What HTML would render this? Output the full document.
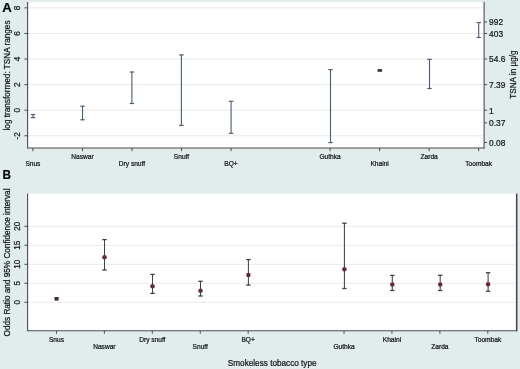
<!DOCTYPE html>
<html><head><meta charset="utf-8"><title>Smokeless tobacco TSNA and odds ratios</title>
<style>html,body{margin:0;padding:0;background:#e1ecec;}svg{display:block;}</style></head>
<body><svg width="520" height="369" viewBox="0 0 520 369" font-family='"Liberation Sans", Arial, Helvetica, sans-serif'><style>text{stroke:#151515;stroke-width:0.22px;}</style>
<rect x="0" y="0" width="520" height="369" fill="#e1ecec"/>
<rect x="27.6" y="2.1" width="456.5" height="145.9" fill="#fff"/>
<line x1="27.6" x2="484.1" y1="7.88" y2="7.88" stroke="#eaeaea" stroke-width="1"/>
<line x1="24.4" x2="27.6" y1="7.88" y2="7.88" stroke="#4d4d4d" stroke-width="1"/>
<text transform="translate(20.4,7.88) rotate(-90)" text-anchor="middle" font-size="8.2" fill="#151515">8</text>
<line x1="27.6" x2="484.1" y1="33.46" y2="33.46" stroke="#eaeaea" stroke-width="1"/>
<line x1="24.4" x2="27.6" y1="33.46" y2="33.46" stroke="#4d4d4d" stroke-width="1"/>
<text transform="translate(20.4,33.46) rotate(-90)" text-anchor="middle" font-size="8.2" fill="#151515">6</text>
<line x1="27.6" x2="484.1" y1="59.04" y2="59.04" stroke="#eaeaea" stroke-width="1"/>
<line x1="24.4" x2="27.6" y1="59.04" y2="59.04" stroke="#4d4d4d" stroke-width="1"/>
<text transform="translate(20.4,59.04) rotate(-90)" text-anchor="middle" font-size="8.2" fill="#151515">4</text>
<line x1="27.6" x2="484.1" y1="84.62" y2="84.62" stroke="#eaeaea" stroke-width="1"/>
<line x1="24.4" x2="27.6" y1="84.62" y2="84.62" stroke="#4d4d4d" stroke-width="1"/>
<text transform="translate(20.4,84.62) rotate(-90)" text-anchor="middle" font-size="8.2" fill="#151515">2</text>
<line x1="27.6" x2="484.1" y1="110.2" y2="110.2" stroke="#eaeaea" stroke-width="1"/>
<line x1="24.4" x2="27.6" y1="110.2" y2="110.2" stroke="#4d4d4d" stroke-width="1"/>
<text transform="translate(20.4,110.2) rotate(-90)" text-anchor="middle" font-size="8.2" fill="#151515">0</text>
<line x1="27.6" x2="484.1" y1="135.78" y2="135.78" stroke="#eaeaea" stroke-width="1"/>
<line x1="24.4" x2="27.6" y1="135.78" y2="135.78" stroke="#4d4d4d" stroke-width="1"/>
<text transform="translate(20.4,135.78) rotate(-90)" text-anchor="middle" font-size="8.2" fill="#151515">-2</text>
<line x1="484.1" x2="487.1" y1="21.95" y2="21.95" stroke="#4d4d4d" stroke-width="1"/>
<text x="489.1" y="25.25" font-size="8.4" fill="#151515">992</text>
<line x1="484.1" x2="487.1" y1="33.47" y2="33.47" stroke="#4d4d4d" stroke-width="1"/>
<text x="489.1" y="36.77" font-size="8.4" fill="#151515">403</text>
<line x1="484.1" x2="487.1" y1="59.04" y2="59.04" stroke="#4d4d4d" stroke-width="1"/>
<text x="489.1" y="62.34" font-size="8.4" fill="#151515">54.6</text>
<line x1="484.1" x2="487.1" y1="84.62" y2="84.62" stroke="#4d4d4d" stroke-width="1"/>
<text x="489.1" y="87.92" font-size="8.4" fill="#151515">7.39</text>
<line x1="484.1" x2="487.1" y1="110.2" y2="110.2" stroke="#4d4d4d" stroke-width="1"/>
<text x="489.1" y="113.5" font-size="8.4" fill="#151515">1</text>
<line x1="484.1" x2="487.1" y1="122.92" y2="122.92" stroke="#4d4d4d" stroke-width="1"/>
<text x="489.1" y="126.22" font-size="8.4" fill="#151515">0.37</text>
<line x1="484.1" x2="487.1" y1="142.5" y2="142.5" stroke="#4d4d4d" stroke-width="1"/>
<text x="489.1" y="145.8" font-size="8.4" fill="#151515">0.08</text>
<line x1="27.6" x2="27.6" y1="2.1" y2="148.5" stroke="#4d4d4d" stroke-width="1.1"/>
<line x1="484.1" x2="484.1" y1="2.1" y2="148.5" stroke="#4d4d4d" stroke-width="1.1"/>
<line x1="27.6" x2="484.1" y1="148" y2="148" stroke="#4d4d4d" stroke-width="1.1"/>
<line x1="32.9" x2="32.9" y1="148" y2="151.2" stroke="#4d4d4d" stroke-width="1"/>
<text x="32.9" y="165.8" text-anchor="middle" font-size="6.6" fill="#151515">Snus</text>
<line x1="82.43" x2="82.43" y1="148" y2="151.2" stroke="#4d4d4d" stroke-width="1"/>
<text x="82.43" y="159" text-anchor="middle" font-size="6.6" fill="#151515">Naswar</text>
<line x1="131.96" x2="131.96" y1="148" y2="151.2" stroke="#4d4d4d" stroke-width="1"/>
<text x="131.96" y="165.8" text-anchor="middle" font-size="6.6" fill="#151515">Dry snuff</text>
<line x1="181.49" x2="181.49" y1="148" y2="151.2" stroke="#4d4d4d" stroke-width="1"/>
<text x="181.49" y="159" text-anchor="middle" font-size="6.6" fill="#151515">Snuff</text>
<line x1="231.02" x2="231.02" y1="148" y2="151.2" stroke="#4d4d4d" stroke-width="1"/>
<text x="231.02" y="165.8" text-anchor="middle" font-size="6.6" fill="#151515">BQ+</text>
<line x1="330.08" x2="330.08" y1="148" y2="151.2" stroke="#4d4d4d" stroke-width="1"/>
<text x="330.08" y="159" text-anchor="middle" font-size="6.6" fill="#151515">Guthka</text>
<line x1="379.61" x2="379.61" y1="148" y2="151.2" stroke="#4d4d4d" stroke-width="1"/>
<text x="379.61" y="165.8" text-anchor="middle" font-size="6.6" fill="#151515">Khaini</text>
<line x1="429.14" x2="429.14" y1="148" y2="151.2" stroke="#4d4d4d" stroke-width="1"/>
<text x="429.14" y="159" text-anchor="middle" font-size="6.6" fill="#151515">Zarda</text>
<line x1="478.67" x2="478.67" y1="148" y2="151.2" stroke="#4d4d4d" stroke-width="1"/>
<text x="478.67" y="165.8" text-anchor="middle" font-size="6.6" fill="#151515">Toombak</text>
<line x1="33" x2="33" y1="114.6" y2="117.6" stroke="#4a5d73" stroke-width="1.1"/>
<line x1="30.8" x2="35.2" y1="114.6" y2="114.6" stroke="#4a5d73" stroke-width="1.2"/>
<line x1="30.8" x2="35.2" y1="117.6" y2="117.6" stroke="#4a5d73" stroke-width="1.2"/>
<line x1="82.5" x2="82.5" y1="106.2" y2="119.8" stroke="#4a5d73" stroke-width="1.1"/>
<line x1="80.3" x2="84.7" y1="106.2" y2="106.2" stroke="#4a5d73" stroke-width="1.2"/>
<line x1="80.3" x2="84.7" y1="119.8" y2="119.8" stroke="#4a5d73" stroke-width="1.2"/>
<line x1="131.9" x2="131.9" y1="72" y2="103.5" stroke="#4a5d73" stroke-width="1.1"/>
<line x1="129.7" x2="134.1" y1="72" y2="72" stroke="#4a5d73" stroke-width="1.2"/>
<line x1="129.7" x2="134.1" y1="103.5" y2="103.5" stroke="#4a5d73" stroke-width="1.2"/>
<line x1="181.4" x2="181.4" y1="54.9" y2="125.4" stroke="#4a5d73" stroke-width="1.1"/>
<line x1="179.2" x2="183.6" y1="54.9" y2="54.9" stroke="#4a5d73" stroke-width="1.2"/>
<line x1="179.2" x2="183.6" y1="125.4" y2="125.4" stroke="#4a5d73" stroke-width="1.2"/>
<line x1="231.1" x2="231.1" y1="101.3" y2="133.3" stroke="#4a5d73" stroke-width="1.1"/>
<line x1="228.9" x2="233.3" y1="101.3" y2="101.3" stroke="#4a5d73" stroke-width="1.2"/>
<line x1="228.9" x2="233.3" y1="133.3" y2="133.3" stroke="#4a5d73" stroke-width="1.2"/>
<line x1="330.5" x2="330.5" y1="69.7" y2="142.6" stroke="#4a5d73" stroke-width="1.1"/>
<line x1="328.3" x2="332.7" y1="69.7" y2="69.7" stroke="#4a5d73" stroke-width="1.2"/>
<line x1="328.3" x2="332.7" y1="142.6" y2="142.6" stroke="#4a5d73" stroke-width="1.2"/>
<rect x="377.5" y="69.1" width="4.6" height="2.7" fill="#2e3947"/>
<line x1="429.5" x2="429.5" y1="59.4" y2="88.5" stroke="#4a5d73" stroke-width="1.1"/>
<line x1="427.3" x2="431.7" y1="59.4" y2="59.4" stroke="#4a5d73" stroke-width="1.2"/>
<line x1="427.3" x2="431.7" y1="88.5" y2="88.5" stroke="#4a5d73" stroke-width="1.2"/>
<line x1="478.7" x2="478.7" y1="22.5" y2="37.5" stroke="#4a5d73" stroke-width="1.1"/>
<line x1="476.5" x2="480.9" y1="22.5" y2="22.5" stroke="#4a5d73" stroke-width="1.2"/>
<line x1="476.5" x2="480.9" y1="37.5" y2="37.5" stroke="#4a5d73" stroke-width="1.2"/>
<text x="2.2" y="11.6" font-size="13.2" font-weight="bold" fill="#000">A</text>
<text transform="translate(9.8,75.5) rotate(-90)" text-anchor="middle" font-size="8.2" fill="#151515">log transformed: TSNA ranges</text>
<text transform="translate(515.6,74.6) rotate(-90)" text-anchor="middle" font-size="8.2" fill="#151515">TSNA in µg/g</text>
<rect x="27.6" y="193.6" width="489.1" height="137.2" fill="#fff"/>
<line x1="27.6" x2="516.7" y1="226.3" y2="226.3" stroke="#eaeaea" stroke-width="1"/>
<line x1="24.4" x2="27.6" y1="226.3" y2="226.3" stroke="#4d4d4d" stroke-width="1"/>
<text transform="translate(20.4,226.3) rotate(-90)" text-anchor="middle" font-size="8.2" fill="#151515">20</text>
<line x1="27.6" x2="516.7" y1="245.3" y2="245.3" stroke="#eaeaea" stroke-width="1"/>
<line x1="24.4" x2="27.6" y1="245.3" y2="245.3" stroke="#4d4d4d" stroke-width="1"/>
<text transform="translate(20.4,245.3) rotate(-90)" text-anchor="middle" font-size="8.2" fill="#151515">15</text>
<line x1="27.6" x2="516.7" y1="264.3" y2="264.3" stroke="#eaeaea" stroke-width="1"/>
<line x1="24.4" x2="27.6" y1="264.3" y2="264.3" stroke="#4d4d4d" stroke-width="1"/>
<text transform="translate(20.4,264.3) rotate(-90)" text-anchor="middle" font-size="8.2" fill="#151515">10</text>
<line x1="27.6" x2="516.7" y1="283.3" y2="283.3" stroke="#eaeaea" stroke-width="1"/>
<line x1="24.4" x2="27.6" y1="283.3" y2="283.3" stroke="#4d4d4d" stroke-width="1"/>
<text transform="translate(20.4,283.3) rotate(-90)" text-anchor="middle" font-size="8.2" fill="#151515">5</text>
<line x1="27.6" x2="516.7" y1="302.3" y2="302.3" stroke="#eaeaea" stroke-width="1"/>
<line x1="24.4" x2="27.6" y1="302.3" y2="302.3" stroke="#4d4d4d" stroke-width="1"/>
<text transform="translate(20.4,302.3) rotate(-90)" text-anchor="middle" font-size="8.2" fill="#151515">0</text>
<line x1="27.6" x2="27.6" y1="193.6" y2="331.3" stroke="#4d4d4d" stroke-width="1.1"/>
<line x1="516.7" x2="516.7" y1="193.6" y2="331.3" stroke="#4a4a4a" stroke-width="1.6"/>
<line x1="27.6" x2="516.7" y1="330.8" y2="330.8" stroke="#4d4d4d" stroke-width="1.1"/>
<line x1="56.45" x2="56.45" y1="330.8" y2="333.8" stroke="#4d4d4d" stroke-width="1"/>
<text x="56.45" y="342" text-anchor="middle" font-size="6.6" fill="#151515">Snus</text>
<line x1="104.38" x2="104.38" y1="330.8" y2="333.8" stroke="#4d4d4d" stroke-width="1"/>
<text x="104.38" y="348.5" text-anchor="middle" font-size="6.6" fill="#151515">Naswar</text>
<line x1="152.31" x2="152.31" y1="330.8" y2="333.8" stroke="#4d4d4d" stroke-width="1"/>
<text x="152.31" y="342" text-anchor="middle" font-size="6.6" fill="#151515">Dry snuff</text>
<line x1="200.24" x2="200.24" y1="330.8" y2="333.8" stroke="#4d4d4d" stroke-width="1"/>
<text x="200.24" y="348.5" text-anchor="middle" font-size="6.6" fill="#151515">Snuff</text>
<line x1="248.17" x2="248.17" y1="330.8" y2="333.8" stroke="#4d4d4d" stroke-width="1"/>
<text x="248.17" y="342" text-anchor="middle" font-size="6.6" fill="#151515">BQ+</text>
<line x1="344.03" x2="344.03" y1="330.8" y2="333.8" stroke="#4d4d4d" stroke-width="1"/>
<text x="344.03" y="348.5" text-anchor="middle" font-size="6.6" fill="#151515">Guthka</text>
<line x1="391.96" x2="391.96" y1="330.8" y2="333.8" stroke="#4d4d4d" stroke-width="1"/>
<text x="391.96" y="342" text-anchor="middle" font-size="6.6" fill="#151515">Khaini</text>
<line x1="439.89" x2="439.89" y1="330.8" y2="333.8" stroke="#4d4d4d" stroke-width="1"/>
<text x="439.89" y="348.5" text-anchor="middle" font-size="6.6" fill="#151515">Zarda</text>
<line x1="487.82" x2="487.82" y1="330.8" y2="333.8" stroke="#4d4d4d" stroke-width="1"/>
<text x="487.82" y="342" text-anchor="middle" font-size="6.6" fill="#151515">Toombak</text>
<rect x="54.5" y="297.0" width="4.1" height="3.6" fill="#46293a"/>
<circle cx="104.5" cy="257.3" r="2.25" fill="#7c1f33"/>
<line x1="104.5" x2="104.5" y1="239.6" y2="270" stroke="#384350" stroke-width="1.05"/>
<line x1="102.3" x2="106.7" y1="239.6" y2="239.6" stroke="#384350" stroke-width="1.3"/>
<line x1="102.3" x2="106.7" y1="270" y2="270" stroke="#384350" stroke-width="1.3"/>
<circle cx="152.5" cy="286.2" r="2.25" fill="#7c1f33"/>
<line x1="152.5" x2="152.5" y1="274.4" y2="293.4" stroke="#384350" stroke-width="1.05"/>
<line x1="150.3" x2="154.7" y1="274.4" y2="274.4" stroke="#384350" stroke-width="1.3"/>
<line x1="150.3" x2="154.7" y1="293.4" y2="293.4" stroke="#384350" stroke-width="1.3"/>
<circle cx="200.5" cy="290.7" r="2.25" fill="#7c1f33"/>
<line x1="200.5" x2="200.5" y1="281.3" y2="296" stroke="#384350" stroke-width="1.05"/>
<line x1="198.3" x2="202.7" y1="281.3" y2="281.3" stroke="#384350" stroke-width="1.3"/>
<line x1="198.3" x2="202.7" y1="296" y2="296" stroke="#384350" stroke-width="1.3"/>
<circle cx="248.4" cy="275.1" r="2.25" fill="#7c1f33"/>
<line x1="248.4" x2="248.4" y1="259.6" y2="285.1" stroke="#384350" stroke-width="1.05"/>
<line x1="246.2" x2="250.6" y1="259.6" y2="259.6" stroke="#384350" stroke-width="1.3"/>
<line x1="246.2" x2="250.6" y1="285.1" y2="285.1" stroke="#384350" stroke-width="1.3"/>
<circle cx="344.4" cy="269.2" r="2.25" fill="#7c1f33"/>
<line x1="344.4" x2="344.4" y1="223.2" y2="288.5" stroke="#384350" stroke-width="1.05"/>
<line x1="342.2" x2="346.6" y1="223.2" y2="223.2" stroke="#384350" stroke-width="1.3"/>
<line x1="342.2" x2="346.6" y1="288.5" y2="288.5" stroke="#384350" stroke-width="1.3"/>
<circle cx="392.3" cy="284.4" r="2.25" fill="#7c1f33"/>
<line x1="392.3" x2="392.3" y1="275.4" y2="290.5" stroke="#384350" stroke-width="1.05"/>
<line x1="390.1" x2="394.5" y1="275.4" y2="275.4" stroke="#384350" stroke-width="1.3"/>
<line x1="390.1" x2="394.5" y1="290.5" y2="290.5" stroke="#384350" stroke-width="1.3"/>
<circle cx="440.2" cy="284.4" r="2.25" fill="#7c1f33"/>
<line x1="440.2" x2="440.2" y1="275.3" y2="290.5" stroke="#384350" stroke-width="1.05"/>
<line x1="438" x2="442.4" y1="275.3" y2="275.3" stroke="#384350" stroke-width="1.3"/>
<line x1="438" x2="442.4" y1="290.5" y2="290.5" stroke="#384350" stroke-width="1.3"/>
<circle cx="488.1" cy="284.2" r="2.25" fill="#7c1f33"/>
<line x1="488.1" x2="488.1" y1="272.7" y2="291.2" stroke="#384350" stroke-width="1.05"/>
<line x1="485.9" x2="490.3" y1="272.7" y2="272.7" stroke="#384350" stroke-width="1.3"/>
<line x1="485.9" x2="490.3" y1="291.2" y2="291.2" stroke="#384350" stroke-width="1.3"/>
<text x="2.6" y="179.3" font-size="12.8" font-weight="bold" fill="#000" transform="translate(2.6,0) scale(0.92,1) translate(-2.6,0)">B</text>
<text transform="translate(9.9,262.5) rotate(-90)" text-anchor="middle" font-size="8.2" fill="#151515">Odds Ratio and 95% Confidence interval</text>
<text x="272.2" y="365.6" text-anchor="middle" font-size="8.2" fill="#151515">Smokeless tobacco type</text>
</svg></body></html>
